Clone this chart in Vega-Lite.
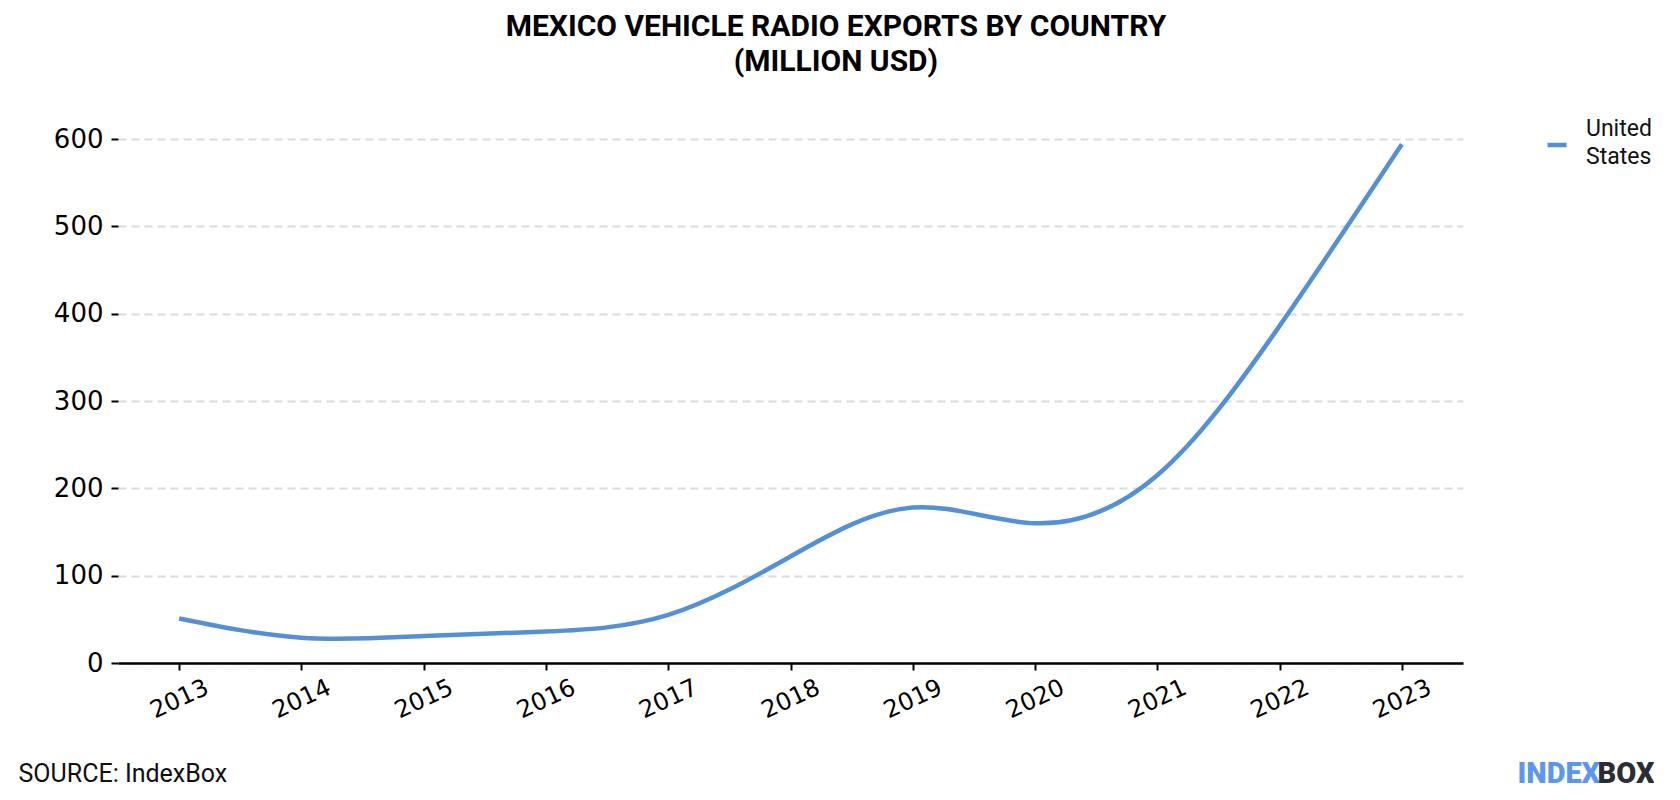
{
  "$schema": "https://vega.github.io/schema/vega-lite/v6.json",
  "background": "#ffffff",
  "padding": {"left": 18, "top": 12, "right": 0, "bottom": 0},
  "width": 1345,
  "height": 524,
  "title": {
    "text": ["MEXICO VEHICLE RADIO EXPORTS BY COUNTRY", "(MILLION USD)"],
    "font": "Roboto",
    "fontSize": 30,
    "fontWeight": "bold",
    "lineHeight": 35,
    "color": "#000000",
    "anchor": "middle",
    "frame": "bounds",
    "offset": 49
  },
  "data": {
    "values": [
      {"year": "2013", "country": "United States", "value": 51},
      {"year": "2014", "country": "United States", "value": 29},
      {"year": "2015", "country": "United States", "value": 31},
      {"year": "2016", "country": "United States", "value": 36},
      {"year": "2017", "country": "United States", "value": 55},
      {"year": "2018", "country": "United States", "value": 122},
      {"year": "2019", "country": "United States", "value": 178},
      {"year": "2020", "country": "United States", "value": 160},
      {"year": "2021", "country": "United States", "value": 215},
      {"year": "2022", "country": "United States", "value": 386},
      {"year": "2023", "country": "United States", "value": 594}
    ]
  },
  "layer": [
    {
      "mark": {"type": "line", "interpolate": "natural", "strokeWidth": 4.5, "strokeCap": "butt"},
      "encoding": {
        "x": {
          "field": "year",
          "type": "ordinal",
          "axis": {
            "orient": "bottom",
            "labelAngle": -25,
            "labelAlign": "center",
            "labelBaseline": "middle",
            "labelPadding": 29,
            "labelFont": "DejaVu Sans",
            "labelFontSize": 24,
            "labelColor": "#000000",
            "tickSize": 7,
            "tickWidth": 2,
            "tickColor": "#000000",
            "domainColor": "#000000",
            "domainWidth": 2.5,
            "grid": false,
            "title": "SOURCE: IndexBox",
            "titleFont": "Roboto",
            "titleFontSize": 25,
            "titleFontWeight": "normal",
            "titleColor": "#111111",
            "titleAlign": "left",
            "titleBaseline": "middle",
            "titleX": -100,
            "titleY": 110
          }
        },
        "y": {
          "field": "value",
          "type": "quantitative",
          "scale": {"domain": [0, 600], "nice": false},
          "axis": {
            "orient": "left",
            "values": [0, 100, 200, 300, 400, 500, 600],
            "title": null,
            "domain": false,
            "labelFont": "DejaVu Sans",
            "labelFontSize": 26,
            "labelColor": "#000000",
            "labelPadding": 8,
            "tickSize": 7,
            "tickWidth": 2,
            "tickColor": "#000000",
            "grid": true,
            "gridColor": "#dcdcdc",
            "gridWidth": 2,
            "gridDash": [8, 5]
          }
        },
        "color": {
          "field": "country",
          "type": "nominal",
          "scale": {"range": ["#558fd6"]},
          "legend": {
            "orient": "none",
            "legendX": 1427,
            "legendY": -6,
            "title": null,
            "padding": 0,
            "symbolType": "stroke",
            "symbolStrokeWidth": 4.5,
            "symbolSize": 361,
            "labelFont": "Roboto",
            "labelFontSize": 23,
            "labelColor": "#111111",
            "labelOffset": 17,
            "labelBaseline": "middle",
            "labelExpr": "split(datum.label, ' ')",
            "labelLimit": 300,
            "encode": {"labels": {"update": {"lineHeight": {"value": 28}, "dy": {"value": -16}}}}
          }
        }
      }
    },
    {
      "mark": {"type": "point", "opacity": 0},
      "encoding": {
        "x": {
          "field": "year",
          "type": "ordinal",
          "axis": {
            "orient": "top",
            "labels": false,
            "ticks": false,
            "domain": false,
            "grid": false,
            "title": "INDEX",
            "titleFont": "Roboto",
            "titleFontSize": 29,
            "titleFontWeight": 900,
            "titleColor": "#5b97f0",
            "titleAlign": "left",
            "titleBaseline": "middle",
            "titleX": 1399,
            "titleY": 634
          }
        },
        "y": {
          "field": "value",
          "type": "quantitative",
          "axis": {
            "orient": "right",
            "labels": false,
            "ticks": false,
            "domain": false,
            "grid": false,
            "title": "BOX",
            "titleFont": "Roboto",
            "titleFontSize": 29,
            "titleFontWeight": 900,
            "titleColor": "#2b2d36",
            "titleAngle": 0,
            "titleAlign": "left",
            "titleBaseline": "middle",
            "titleX": 134,
            "titleY": 634
          }
        }
      }
    }
  ],
  "resolve": {"axis": {"x": "independent", "y": "independent"}},
  "config": {
    "view": {"stroke": null},
    "font": "Roboto"
  }
}
